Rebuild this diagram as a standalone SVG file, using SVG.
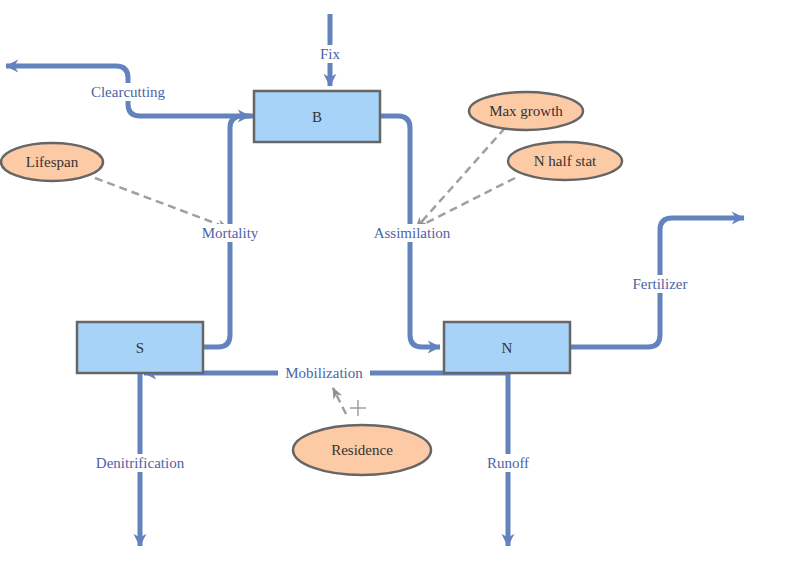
<svg xmlns="http://www.w3.org/2000/svg" width="800" height="582" viewBox="0 0 800 582">
<style>
.f{fill:none;stroke:#6383be;stroke-width:5}
.d{fill:none;stroke:#a0a0a0;stroke-width:2.5;stroke-dasharray:8,5}
.box{fill:#a6d3f7;stroke:#666;stroke-width:2.5}
.el{fill:#fdcaa6;stroke:#666;stroke-width:2.5}
text{font-family:"Liberation Serif",serif;font-size:15px;text-anchor:middle;dominant-baseline:central}
.nt{fill:#333}
.lb{fill:#4a64a8}
.bg{fill:#fff}
</style>
<defs>
<marker id="a" viewBox="0 0 10 10" refX="9" refY="5" markerWidth="5" markerHeight="5" orient="auto" markerUnits="userSpaceOnUse" style="overflow:visible">
<path d="M0,0 L10,5 L0,10 L3,5 Z" fill="#6383be" transform="scale(2.6) translate(-6,-3)"/>
</marker>
<marker id="g" viewBox="0 0 10 10" refX="9" refY="5" markerWidth="12" markerHeight="12" orient="auto" markerUnits="userSpaceOnUse">
<path d="M0,1 L10,5 L0,9 L3,5 Z" fill="#909090"/>
</marker>
</defs>
<g id="connectors">
<path class="f" d="M330,14 V86" marker-end="url(#a)"/>
<path class="f" d="M254,116 H140 Q128,116 128,104 V78 Q128,66 116,66 H6" marker-end="url(#a)"/>
<path class="f" d="M203,347 H218 Q230,347 230,335 V128 Q230,116 242,116 H250" marker-end="url(#a)"/>
<path class="f" d="M380,116 H398 Q410,116 410,128 V335 Q410,347 422,347 H440" marker-end="url(#a)"/>
<path class="f" d="M570,347 H648 Q660,347 660,335 V230 Q660,218 672,218 H744" marker-end="url(#a)"/>
<path class="f" d="M508,373 H144" marker-end="url(#a)"/>
<path class="f" d="M140,373 V546" marker-end="url(#a)"/>
<path class="f" d="M508,373 V546" marker-end="url(#a)"/>
<path class="d" d="M95,178 L228,228" marker-end="url(#g)"/>
<path class="d" d="M505,128 L416,228" marker-end="url(#g)"/>
<path class="d" d="M515,178 L416,228" marker-end="url(#g)"/>
<path class="d" d="M346,414 L333,388" marker-end="url(#g)"/>
<path d="M350,408 H366 M358,400 V416" stroke="#a0a0a0" stroke-width="1.5"/>
<rect class="bg" x="316" y="45" width="28" height="18"/><text class="lb" x="330" y="54">Fix</text>
<rect class="bg" x="84" y="83" width="88" height="18"/><text class="lb" x="128" y="92">Clearcutting</text>
<rect class="bg" x="196" y="224" width="68" height="18"/><text class="lb" x="230" y="233">Mortality</text>
<rect class="bg" x="368" y="224" width="86" height="18"/><text class="lb" x="412" y="233">Assimilation</text>
<rect class="bg" x="626" y="275" width="66" height="18"/><text class="lb" x="660" y="284">Fertilizer</text>
<rect class="bg" x="278" y="364" width="92" height="18"/><text class="lb" x="324" y="373">Mobilization</text>
<rect class="bg" x="88" y="454" width="104" height="18"/><text class="lb" x="140" y="463">Denitrification</text>
<rect class="bg" x="482" y="454" width="52" height="18"/><text class="lb" x="508" y="463">Runoff</text>
</g>
<g id="B"><rect class="box" x="254" y="91" width="126" height="51"/><text class="nt" x="317" y="117">B</text></g>
<g id="S"><rect class="box" x="77" y="322" width="126" height="51"/><text class="nt" x="140" y="348">S</text></g>
<g id="N"><rect class="box" x="444" y="322" width="126" height="51"/><text class="nt" x="507" y="348">N</text></g>
<g id="Lifespan"><ellipse class="el" cx="52" cy="162" rx="51" ry="19"/><text class="nt" x="52" y="162">Lifespan</text></g>
<g id="MaxGrowth"><ellipse class="el" cx="526" cy="111" rx="57" ry="19"/><text class="nt" x="526" y="111">Max growth</text></g>
<g id="NHalfStat"><ellipse class="el" cx="565" cy="161" rx="57" ry="19"/><text class="nt" x="565" y="161">N half stat</text></g>
<g id="Residence"><ellipse class="el" cx="362" cy="450" rx="69" ry="25"/><text class="nt" x="362" y="450">Residence</text></g>
</svg>
